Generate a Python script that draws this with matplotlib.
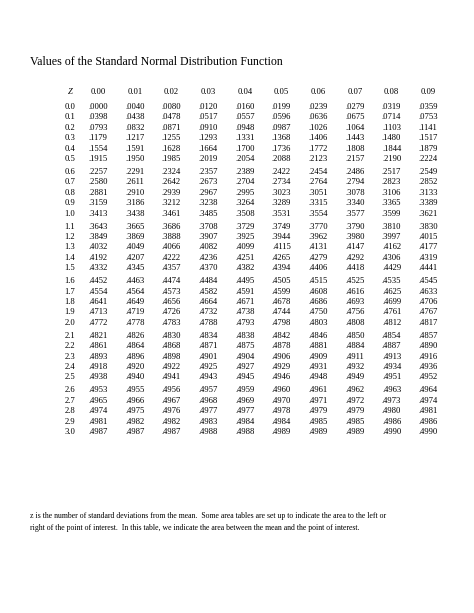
import matplotlib.pyplot as plt

# Standard normal table: area between mean and z
z_rows = ['0.0', '0.1', '0.2', '0.3', '0.4', '0.5',
          '0.6', '0.7', '0.8', '0.9', '1.0',
          '1.1', '1.2', '1.3', '1.4', '1.5',
          '1.6', '1.7', '1.8', '1.9', '2.0',
          '2.1', '2.2', '2.3', '2.4', '2.5',
          '2.6', '2.7', '2.8', '2.9', '3.0']
col_heads = ['0.00', '0.01', '0.02', '0.03', '0.04', '0.05', '0.06', '0.07', '0.08', '0.09']
values = [
    '0000 0040 0080 0120 0160 0199 0239 0279 0319 0359',
    '0398 0438 0478 0517 0557 0596 0636 0675 0714 0753',
    '0793 0832 0871 0910 0948 0987 1026 1064 1103 1141',
    '1179 1217 1255 1293 1331 1368 1406 1443 1480 1517',
    '1554 1591 1628 1664 1700 1736 1772 1808 1844 1879',
    '1915 1950 1985 2019 2054 2088 2123 2157 2190 2224',
    '2257 2291 2324 2357 2389 2422 2454 2486 2517 2549',
    '2580 2611 2642 2673 2704 2734 2764 2794 2823 2852',
    '2881 2910 2939 2967 2995 3023 3051 3078 3106 3133',
    '3159 3186 3212 3238 3264 3289 3315 3340 3365 3389',
    '3413 3438 3461 3485 3508 3531 3554 3577 3599 3621',
    '3643 3665 3686 3708 3729 3749 3770 3790 3810 3830',
    '3849 3869 3888 3907 3925 3944 3962 3980 3997 4015',
    '4032 4049 4066 4082 4099 4115 4131 4147 4162 4177',
    '4192 4207 4222 4236 4251 4265 4279 4292 4306 4319',
    '4332 4345 4357 4370 4382 4394 4406 4418 4429 4441',
    '4452 4463 4474 4484 4495 4505 4515 4525 4535 4545',
    '4554 4564 4573 4582 4591 4599 4608 4616 4625 4633',
    '4641 4649 4656 4664 4671 4678 4686 4693 4699 4706',
    '4713 4719 4726 4732 4738 4744 4750 4756 4761 4767',
    '4772 4778 4783 4788 4793 4798 4803 4808 4812 4817',
    '4821 4826 4830 4834 4838 4842 4846 4850 4854 4857',
    '4861 4864 4868 4871 4875 4878 4881 4884 4887 4890',
    '4893 4896 4898 4901 4904 4906 4909 4911 4913 4916',
    '4918 4920 4922 4925 4927 4929 4931 4932 4934 4936',
    '4938 4940 4941 4943 4945 4946 4948 4949 4951 4952',
    '4953 4955 4956 4957 4959 4960 4961 4962 4963 4964',
    '4965 4966 4967 4968 4969 4970 4971 4972 4973 4974',
    '4974 4975 4976 4977 4977 4978 4979 4979 4980 4981',
    '4981 4982 4982 4983 4984 4984 4985 4985 4986 4986',
    '4987 4987 4987 4988 4988 4989 4989 4989 4990 4990',
]
groups = [0] * 6 + [1] * 5 + [2] * 5 + [3] * 5 + [4] * 5 + [5] * 5

title = 'Values of the Standard Normal Distribution Function'
note = ['z is the number of standard deviations from the mean.  Some area tables are set up to indicate the area to the left or',
        'right of the point of interest.  In this table, we indicate the area between the mean and the point of interest.']

W, H = 474, 613
plt.rcParams['font.family'] = ['Liberation Serif', 'DejaVu Serif']
fig = plt.figure(figsize=(W / 100, H / 100), dpi=100)
ax = fig.add_axes([0, 0, 1, 1])
ax.set_xlim(0, W)
ax.set_ylim(H, 0)
ax.axis('off')

fs = 6.2
ax.text(30, 62, title, fontsize=8.6, va='center')
ax.text(70, 92, 'Z', fontsize=fs, style='italic', va='center', ha='center')
col_x = [98 + 36.7 * j for j in range(len(col_heads))]
for x, h in zip(col_x, col_heads):
    ax.text(x, 92, h, fontsize=fs, va='center', ha='center')

for i, (z, row) in enumerate(zip(z_rows, values)):
    y = 107 + i * 10.4 + groups[i] * 2.6
    ax.text(70, y, z, fontsize=fs, va='center', ha='center')
    for x, v in zip(col_x, row.split()):
        ax.text(x, y, '.' + v, fontsize=fs, va='center', ha='center')

ax.text(30, 516, note[0], fontsize=5.6, va='center')
ax.text(30, 528, note[1], fontsize=5.6, va='center')

fig.savefig('out.png', dpi=100)
